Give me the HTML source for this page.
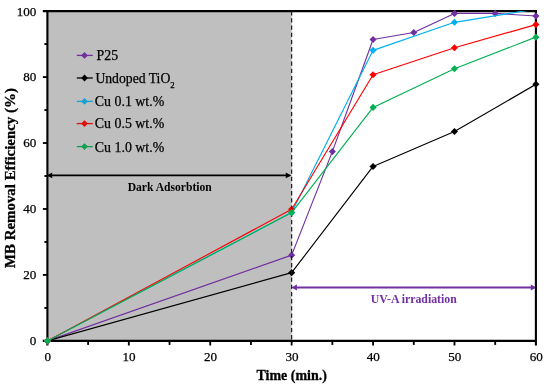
<!DOCTYPE html>
<html><head><meta charset="utf-8"><title>MB Removal Efficiency</title>
<style>
html,body{margin:0;padding:0;background:#fff;}
body{width:550px;height:387px;overflow:hidden;}
svg{display:block;}
text{font-family:"Liberation Serif","DejaVu Serif",serif;fill:#000;}
.b{font-weight:bold;}
.t{stroke:#000;stroke-width:0.3px;}
.r{stroke:#000;stroke-width:0.25px;}
</style></head><body>
<svg width="550" height="387" viewBox="0 0 550 387">
<rect width="550" height="387" fill="#fff"/>
<defs><clipPath id="pc"><rect x="47.4" y="11.1" width="488.5" height="329.79999999999995"/></clipPath></defs>
<rect x="47.4" y="11.1" width="244.25" height="329.79999999999995" fill="#bfbfbf"/>

<line x1="51.70" y1="175.4" x2="286.25" y2="175.4" stroke="#000" stroke-width="1.8"/>
<path d="M46.60 175.4l5.6 -2.9v5.8z" fill="#000"/><path d="M291.35 175.4l-5.6 -2.9v5.8z" fill="#000"/>
<line x1="296.45" y1="287.5" x2="531.30" y2="287.5" stroke="#7030a0" stroke-width="1.9"/>
<path d="M291.35 287.5l5.6 -2.9v5.8z" fill="#7030a0"/><path d="M536.40 287.5l-5.6 -2.9v5.8z" fill="#7030a0"/>
<g stroke="#000" stroke-width="2.1" fill="none">
<path d="M42.8 11.1H536.9499999999999"/>
<path d="M535.9 11.1V345.5"/>
<path d="M47.4 11.1V345.5"/>
<path d="M42.8 340.9H535.9"/>
</g>
<g stroke="#000" stroke-width="1.85">
<line x1="44.40" y1="307.92" x2="47.4" y2="307.92"/>
<line x1="42.90" y1="274.94" x2="47.4" y2="274.94"/>
<line x1="44.40" y1="241.96" x2="47.4" y2="241.96"/>
<line x1="42.90" y1="208.98" x2="47.4" y2="208.98"/>
<line x1="44.40" y1="176.00" x2="47.4" y2="176.00"/>
<line x1="42.90" y1="143.02" x2="47.4" y2="143.02"/>
<line x1="44.40" y1="110.04" x2="47.4" y2="110.04"/>
<line x1="42.90" y1="77.06" x2="47.4" y2="77.06"/>
<line x1="44.40" y1="44.08" x2="47.4" y2="44.08"/>
<line x1="88.11" y1="340.9" x2="88.11" y2="344.90"/>
<line x1="128.82" y1="340.9" x2="128.82" y2="345.50"/>
<line x1="169.53" y1="340.9" x2="169.53" y2="344.90"/>
<line x1="210.23" y1="340.9" x2="210.23" y2="345.50"/>
<line x1="250.94" y1="340.9" x2="250.94" y2="344.90"/>
<line x1="291.65" y1="340.9" x2="291.65" y2="345.50"/>
<line x1="332.36" y1="340.9" x2="332.36" y2="344.90"/>
<line x1="373.07" y1="340.9" x2="373.07" y2="345.50"/>
<line x1="413.77" y1="340.9" x2="413.77" y2="344.90"/>
<line x1="454.48" y1="340.9" x2="454.48" y2="345.50"/>
<line x1="495.19" y1="340.9" x2="495.19" y2="344.90"/>
</g>
<polyline clip-path="url(#pc)" fill="none" stroke-linejoin="round" points="47.40,340.90 291.65,255.15 332.36,151.59 373.07,39.46 413.77,32.54 454.48,13.41 495.19,13.41 535.90,16.05" stroke="#7030a0" stroke-width="1.15"/>
<path d="M47.40 337.35L50.95 340.90L47.40 344.45L43.85 340.90Z" fill="#7030a0"/>
<path d="M291.65 251.60L295.20 255.15L291.65 258.70L288.10 255.15Z" fill="#7030a0"/>
<path d="M332.36 148.04L335.91 151.59L332.36 155.14L328.81 151.59Z" fill="#7030a0"/>
<path d="M373.07 35.91L376.62 39.46L373.07 43.01L369.52 39.46Z" fill="#7030a0"/>
<path d="M413.77 28.99L417.32 32.54L413.77 36.09L410.22 32.54Z" fill="#7030a0"/>
<path d="M454.48 9.86L458.03 13.41L454.48 16.96L450.93 13.41Z" fill="#7030a0"/>
<path d="M495.19 9.86L498.74 13.41L495.19 16.96L491.64 13.41Z" fill="#7030a0"/>
<path d="M535.90 12.50L539.45 16.05L535.90 19.60L532.35 16.05Z" fill="#7030a0"/>
<polyline clip-path="url(#pc)" fill="none" stroke-linejoin="round" points="47.40,340.90 291.65,272.63 373.07,166.44 454.48,131.48 535.90,84.32" stroke="#000000" stroke-width="1.15"/>
<path d="M47.40 337.35L50.95 340.90L47.40 344.45L43.85 340.90Z" fill="#000000"/>
<path d="M291.65 269.08L295.20 272.63L291.65 276.18L288.10 272.63Z" fill="#000000"/>
<path d="M373.07 162.89L376.62 166.44L373.07 169.99L369.52 166.44Z" fill="#000000"/>
<path d="M454.48 127.93L458.03 131.48L454.48 135.03L450.93 131.48Z" fill="#000000"/>
<path d="M535.90 80.77L539.45 84.32L535.90 87.87L532.35 84.32Z" fill="#000000"/>
<polyline clip-path="url(#pc)" fill="none" stroke-linejoin="round" points="47.40,340.90 291.65,212.61 373.07,50.35 454.48,22.31 535.90,9.12" stroke="#00b0f0" stroke-width="1.15"/>
<path d="M47.40 337.35L50.95 340.90L47.40 344.45L43.85 340.90Z" fill="#00b0f0"/>
<path d="M291.65 209.06L295.20 212.61L291.65 216.16L288.10 212.61Z" fill="#00b0f0"/>
<path d="M373.07 46.80L376.62 50.35L373.07 53.90L369.52 50.35Z" fill="#00b0f0"/>
<path d="M454.48 18.76L458.03 22.31L454.48 25.86L450.93 22.31Z" fill="#00b0f0"/>
<polyline clip-path="url(#pc)" fill="none" stroke-linejoin="round" points="47.40,340.90 291.65,209.31 373.07,74.75 454.48,47.71 535.90,24.62" stroke="#ff0000" stroke-width="1.15"/>
<path d="M47.40 337.35L50.95 340.90L47.40 344.45L43.85 340.90Z" fill="#ff0000"/>
<path d="M291.65 205.76L295.20 209.31L291.65 212.86L288.10 209.31Z" fill="#ff0000"/>
<path d="M373.07 71.20L376.62 74.75L373.07 78.30L369.52 74.75Z" fill="#ff0000"/>
<path d="M454.48 44.16L458.03 47.71L454.48 51.26L450.93 47.71Z" fill="#ff0000"/>
<path d="M535.90 21.07L539.45 24.62L535.90 28.17L532.35 24.62Z" fill="#ff0000"/>
<line x1="291.65" y1="11.1" x2="291.65" y2="340.9" stroke="#1a1a1a" stroke-width="1.2" stroke-dasharray="4.3 2.9"/>
<polyline clip-path="url(#pc)" fill="none" stroke-linejoin="round" points="47.40,340.90 291.65,212.61 373.07,107.40 454.48,68.81 535.90,37.15" stroke="#00b050" stroke-width="1.15"/>
<path d="M47.40 337.35L50.95 340.90L47.40 344.45L43.85 340.90Z" fill="#00b050"/>
<path d="M291.65 209.06L295.20 212.61L291.65 216.16L288.10 212.61Z" fill="#00b050"/>
<path d="M373.07 103.85L376.62 107.40L373.07 110.95L369.52 107.40Z" fill="#00b050"/>
<path d="M454.48 65.27L458.03 68.81L454.48 72.36L450.93 68.81Z" fill="#00b050"/>
<path d="M535.90 33.60L539.45 37.15L535.90 40.70L532.35 37.15Z" fill="#00b050"/>
<g class="r" font-size="13.1" text-anchor="end">
<text x="36.3" y="345.30">0</text>
<text x="36.3" y="279.34">20</text>
<text x="36.3" y="213.38">40</text>
<text x="36.3" y="147.42">60</text>
<text x="36.3" y="81.46">80</text>
<text x="36.3" y="15.50">100</text>
</g>
<g class="r" font-size="13.1" text-anchor="middle">
<text x="47.70" y="360.8">0</text>
<text x="129.12" y="360.8">10</text>
<text x="210.53" y="360.8">20</text>
<text x="291.95" y="360.8">30</text>
<text x="373.37" y="360.8">40</text>
<text x="454.78" y="360.8">50</text>
<text x="536.20" y="360.8">60</text>
</g>
<text class="b t" font-size="14.67" text-anchor="middle" x="291.65" y="380" textLength="70.4" lengthAdjust="spacingAndGlyphs">Time (min.)</text>
<text class="b t" font-size="14.9" text-anchor="middle" transform="translate(14.5 178.1) rotate(-90)">MB Removal Efficiency (%)</text>
<text class="b" font-size="11.6" text-anchor="middle" x="169.7" y="190.5" fill="#111">Dark Adsorbtion</text>
<text class="b" font-size="11.8" text-anchor="middle" x="413.8" y="302.7" style="fill:#7030a0">UV-A irradiation</text>
<line x1="76.8" y1="55.4" x2="92.8" y2="55.4" stroke="#7030a0" stroke-width="1.3"/>
<path d="M84.50 52.00L87.90 55.40L84.50 58.80L81.10 55.40Z" fill="#7030a0"/>
<text class="r" font-size="13.9" x="96.6" y="59.8">P25</text>
<line x1="76.8" y1="78.0" x2="92.8" y2="78.0" stroke="#000" stroke-width="1.3"/>
<path d="M84.50 74.60L87.90 78.00L84.50 81.40L81.10 78.00Z" fill="#000"/>
<text class="r" font-size="13.7" x="95.4" y="83.1">Undoped TiO<tspan font-size="8.8" dy="4.8">2</tspan></text>
<line x1="76.8" y1="101.4" x2="92.8" y2="101.4" stroke="#1a9fd4" stroke-width="1.3"/>
<path d="M84.50 98.00L87.90 101.40L84.50 104.80L81.10 101.40Z" fill="#1a9fd4"/>
<text class="r" font-size="13.9" x="94.8" y="105.8">Cu 0.1 wt.%</text>
<line x1="76.8" y1="123.6" x2="92.8" y2="123.6" stroke="#e01010" stroke-width="1.3"/>
<path d="M84.50 120.20L87.90 123.60L84.50 127.00L81.10 123.60Z" fill="#e01010"/>
<text class="r" font-size="13.9" x="94.8" y="128.4">Cu 0.5 wt.%</text>
<line x1="76.8" y1="146.6" x2="92.8" y2="146.6" stroke="#10a050" stroke-width="1.3"/>
<path d="M84.50 143.20L87.90 146.60L84.50 150.00L81.10 146.60Z" fill="#10a050"/>
<text class="r" font-size="13.9" x="94.8" y="151.6">Cu 1.0 wt.%</text>
</svg></body></html>
